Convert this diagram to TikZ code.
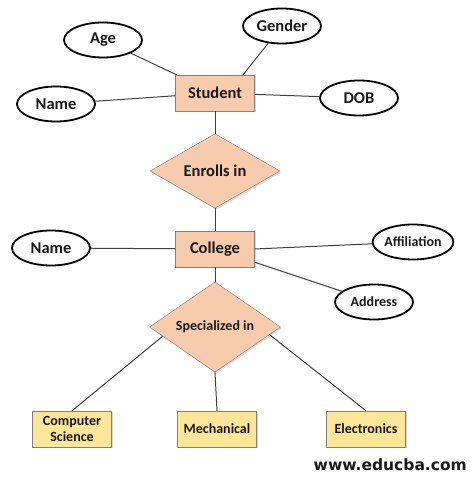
\documentclass[tikz,border=0pt]{standalone}
\usepackage{fontspec}
\setmainfont{Carlito}
\newfontfamily\urlfont{DejaVu Sans}
\usetikzlibrary{positioning, shapes.geometric, shadows}
\definecolor{peach}{RGB}{248,203,173}
\definecolor{pale}{RGB}{255,230,153}

\begin{document}
\begin{tikzpicture}[x=1pt, y=1pt, node distance={78pt}, text=black!90,
  font=\bfseries\fontsize{16.5}{18}\selectfont,
  ent/.style = {draw=gray, fill=peach, minimum width=79pt, minimum height=36pt, drop shadow={opacity=0.3, shadow xshift=1.2pt, shadow yshift=-1.5pt}},
  rel/.style = {draw=gray, diamond, fill=peach, minimum width=130pt, minimum height=68pt, inner sep=0pt, drop shadow={opacity=0.3, shadow xshift=1.2pt, shadow yshift=-1.5pt}},
  attr/.style = {draw, ellipse, line width=1.8pt, fill=white, minimum width=78pt, minimum height=35pt, inner sep=0pt},
  val/.style = {draw=gray, fill=pale, minimum width=79pt, minimum height=36pt, align=center, drop shadow={opacity=0.3, shadow xshift=1.2pt, shadow yshift=-1.5pt}},
  small/.style = {font=\bfseries\fontsize{14}{16}\selectfont},
  link/.style = {draw=black!75, line width=1pt}]
\useasboundingbox (0,0) rectangle (474,481);

% entities and relations
\node[ent] (st) at (215,388) {Student};
\node[rel] (en) [below of=st] {Enrolls in};
\node[ent] (co) [below of=en] {College};
\node[rel, small, minimum width=131pt, minimum height=69pt] (sp) [below of=co] {Specialized in};

% attributes
\node[attr] (ag) at (103,441) {Age};
\node[attr] (ge) at (282,455) {Gender};
\node[attr] (na) at (56,377) {Name};
\node[attr] (do) at (359,383) {DOB};
\node[attr] (nb) at (51,233) {Name};
\node[attr, small, minimum width=80pt] (af) at (413,239) {Affiliation};
\node[attr, small] (ad) at (374,179) {Address};

% branches
\node[val, small] (cs) at (72,52) {Computer\\Science};
\node[val, small] (me) at (217,52) {Mechanical};
\node[val, small] (el) at (366,52) {Electronics};

\node[font=\urlfont\bfseries\fontsize{15.5}{18}\selectfont, anchor=east, inner sep=0pt] (url) at (467,16) {www.educba.com};

\draw[link] (ag) -- (st);
\draw[link] (ge) -- (st.33);
\draw[link] (na) -- (st);
\draw[link] (do) -- (st);
\draw[link] (st) -- (en);
\draw[link] (en) -- (co);
\draw[link] (nb) -- (co);
\draw[link] (co.east) -- (af);
\draw[link] (co) -- (ad);
\draw[link] (co) -- (sp);
\draw[link] (sp.190) -- (cs.north);
\draw[link] (sp.south) -- (me.north);
\draw[link] (sp.352) -- (el.north);
\end{tikzpicture}
\end{document}
